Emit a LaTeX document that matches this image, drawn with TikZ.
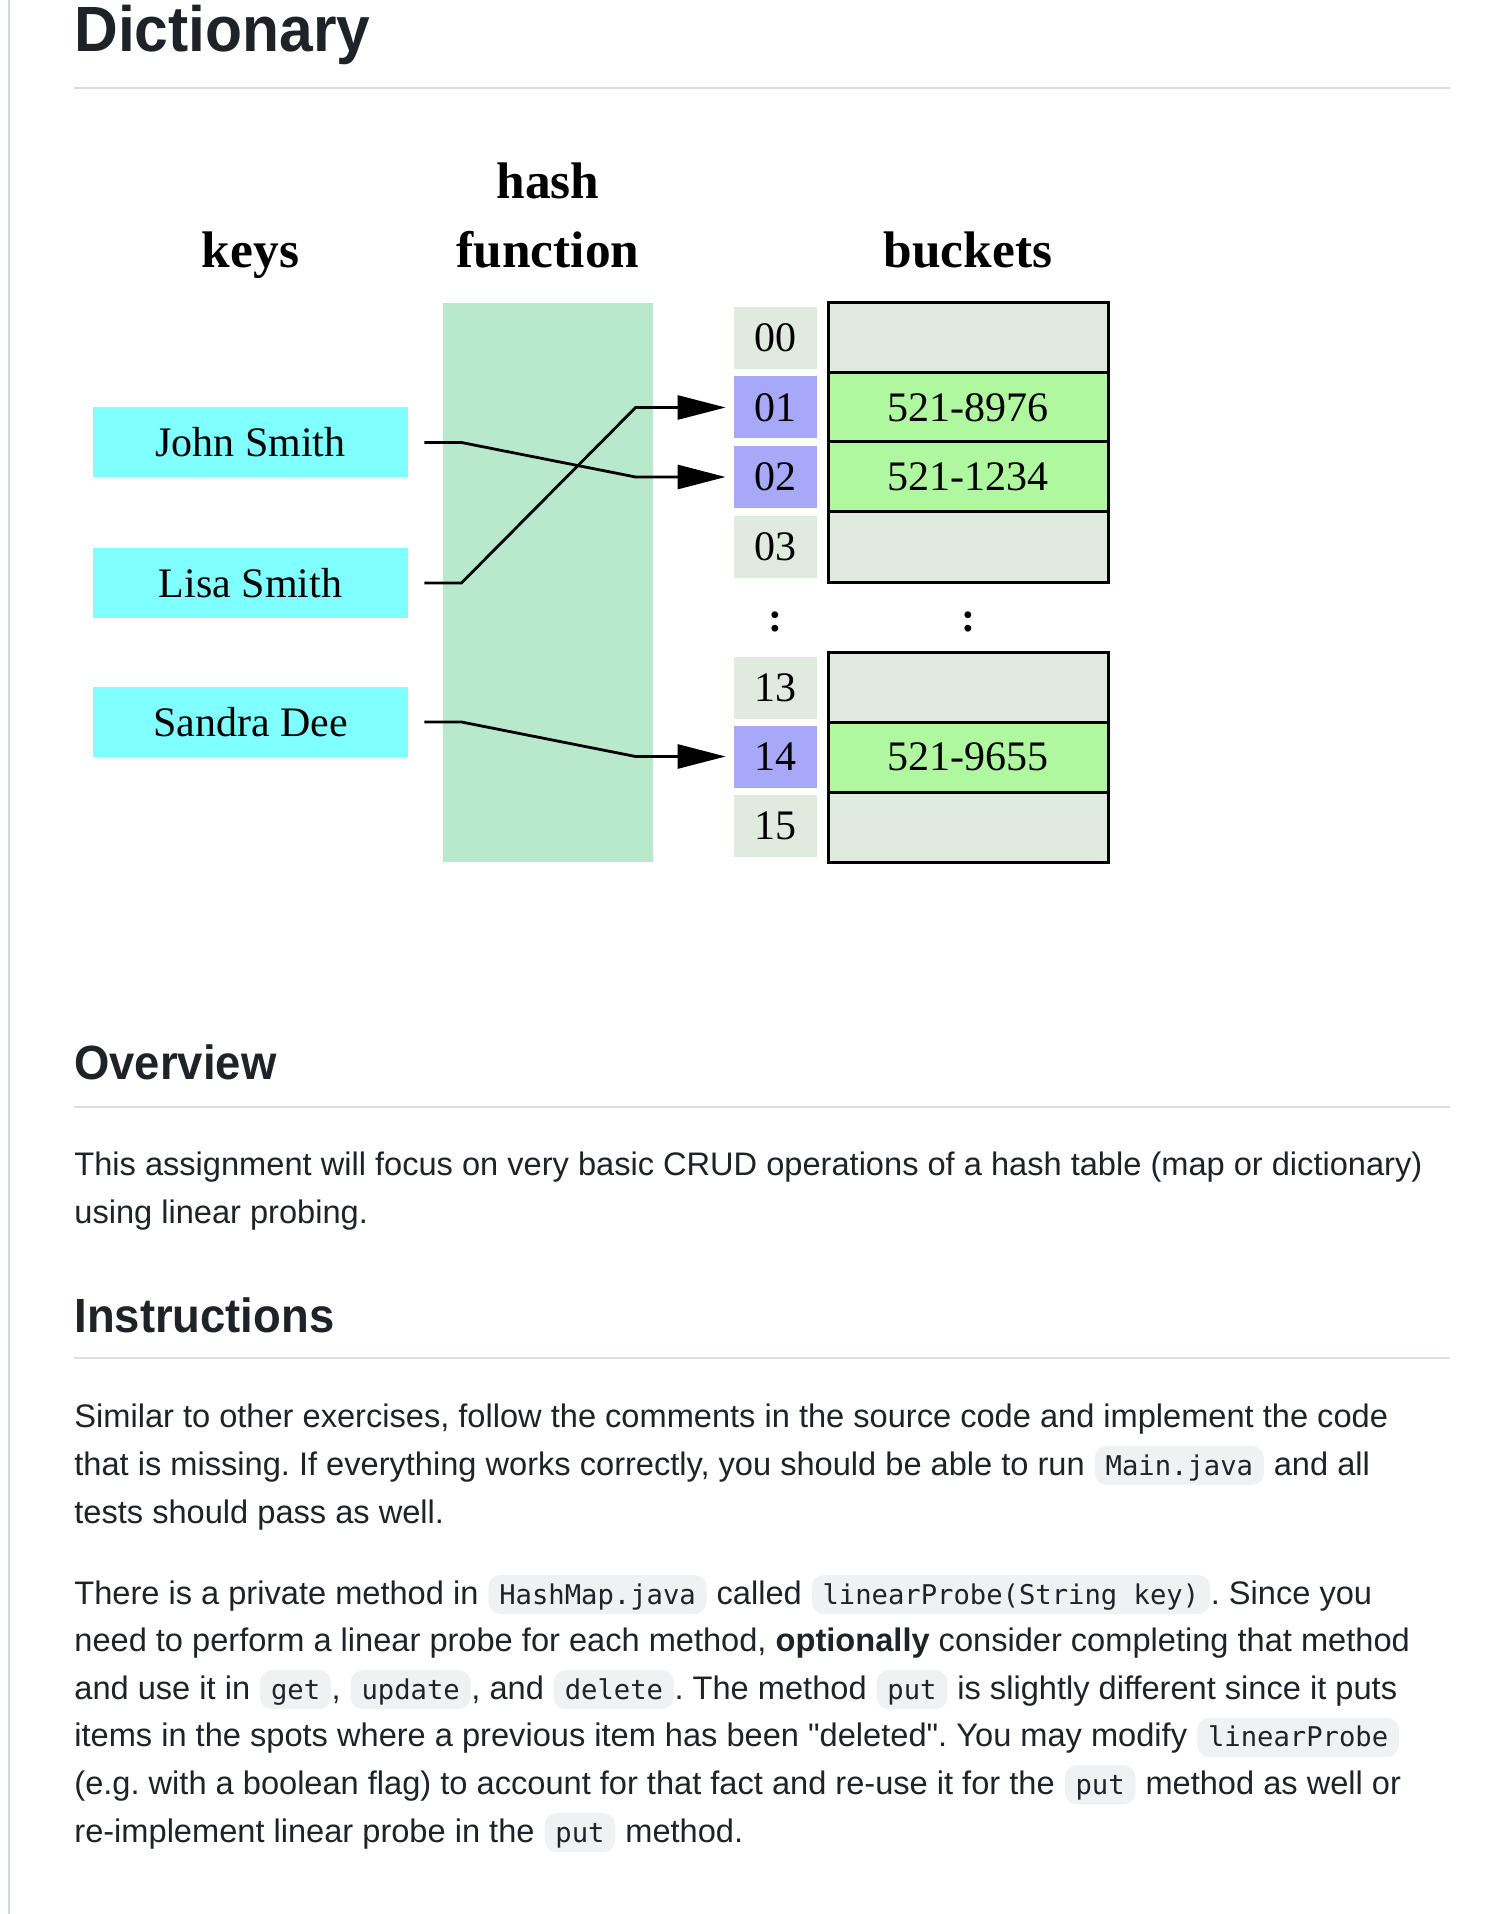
\documentclass[tikz,border=0pt]{standalone}
\usepackage{fontspec}
\setmainfont{Liberation Serif}
\newfontfamily\bodyfont{Liberation Sans}
\newfontfamily\headfont[FakeStretch=0.946]{Liberation Sans}
\newfontfamily\codefont{DejaVu Sans Mono}
\newfontfamily\diafont{Liberation Serif}
\usetikzlibrary{arrows.meta}
\frenchspacing
\definecolor{ink}{HTML}{1F2328}
\definecolor{rulegray}{HTML}{D8DEE4}
\definecolor{sidegray}{HTML}{D0D7DE}
\definecolor{codebg}{HTML}{EFF1F3}
\definecolor{keycyan}{HTML}{80FFFF}
\definecolor{hashgreen}{HTML}{B8E9CC}
\definecolor{emptycell}{HTML}{E0EADF}
\definecolor{hitblue}{HTML}{A8A8F8}
\definecolor{fullcell}{HTML}{B0F8A0}
\tikzset{
  h1/.style={font=\headfont\bfseries\fontsize{32}{38}\selectfont, text=ink, inner sep=0, anchor=base west},
  h2/.style={font=\headfont\bfseries\fontsize{24}{29}\selectfont, text=ink, inner sep=0, anchor=base west},
  txt/.style={font=\bodyfont\frenchspacing\fontsize{16.3}{20}\selectfont, text=ink, inner sep=0, anchor=base west},
  code/.style={font=\codefont\fontsize{13.6}{16}\selectfont, text=ink, fill=codebg, rounded corners=6pt,
    inner xsep=5.4pt, inner ysep=2pt, text height=12.5pt, text depth=3pt, anchor=base west},
  hrule/.style={draw=rulegray, line width=1pt},
  dhead/.style={font=\diafont\bfseries\fontsize{25.7}{30}\selectfont, inner sep=0, anchor=base},
  keybox/.style={fill=keycyan, minimum width=157.5pt, minimum height=35pt, inner sep=0,
    font=\diafont\fontsize{21}{25}\selectfont},
  idx/.style={minimum width=41.5pt, minimum height=31pt, inner sep=0, font=\diafont\fontsize{21}{25}\selectfont},
  idxe/.style={idx, fill=emptycell},
  idxh/.style={idx, fill=hitblue},
  cell/.style={draw=black, line width=1.5pt, minimum width=140pt, minimum height=35pt, inner sep=0,
    font=\diafont\fontsize{21}{25}\selectfont},
  celle/.style={cell, fill=emptycell},
  cellf/.style={cell, fill=fullcell},
  dots/.style={font=\diafont\bfseries\fontsize{21}{25}\selectfont, inner sep=0},
  conn/.style={draw=black, line width=1.4pt, -{Triangle[length=24pt,width=12pt]}},
}
\begin{document}
\begin{tikzpicture}[x=0.5pt,y=-0.5pt]
\path[use as bounding box, fill=white] (0,0) rectangle (1494,1914);
\draw[sidegray, line width=1.2pt] (9,0) -- (9,1914);

% Title
\node[h1] (title) at (74,52) {Dictionary};
\draw[hrule] (74,88) -- (1450,88);

% ---------- diagram ----------
\node[dhead] (hhash) at (548,199) {hash};
\node[dhead] (hfunc) at (548,268) {function};
\node[dhead] (hkeys) at (250.5,268) {keys};
\node[dhead] (hbuck) at (968,268) {buckets};

\node[fill=hashgreen, minimum width=105pt, minimum height=279.5pt, inner sep=0] (hashf) at (548,582.5) {};

\node[keybox] (john) at (250.5,442.5) {John Smith};
\node[keybox] (lisa) at (250.5,583) {Lisa Smith};
\node[keybox] (sandra) at (250.5,722) {Sandra Dee};

\node[idxe] (i00) at (775.5,338) {00};
\node[idxh] (i01) at (775.5,407.5) {01};
\node[idxh] (i02) at (775.5,477) {02};
\node[idxe] (i03) at (775.5,547) {03};
\node[dots] (idots) at (775.5,622) {:};
\node[idxe] (i13) at (775.5,687.5) {13};
\node[idxh] (i14) at (775.5,756.5) {14};
\node[idxe] (i15) at (775.5,826) {15};

\node[celle] (b00) at (968,338) {};
\node[cellf] (b01) at (968,407.5) {521-8976};
\node[cellf] (b02) at (968,477) {521-1234};
\node[celle] (b03) at (968,547) {};
\node[dots] (bdots) at (968,622) {:};
\node[celle] (b13) at (968,687.5) {};
\node[cellf] (b14) at (968,757) {521-9655};
\node[celle] (b15) at (968,827) {};

\draw[conn] ([xshift=8pt]john.east) -- ([xshift=26.5pt]john.east) -- ([xshift=-49pt]i02.west) -- ([xshift=-4pt]i02.west);
\draw[conn] ([xshift=8pt]lisa.east) -- ([xshift=26.5pt]lisa.east) -- ([xshift=-49pt]i01.west) -- ([xshift=-4pt]i01.west);
\draw[conn] ([xshift=8pt]sandra.east) -- ([xshift=26.5pt]sandra.east) -- ([xshift=-49pt]i14.west) -- ([xshift=-4pt]i14.west);

% ---------- Overview ----------
\node[h2] (overview) at (74,1079) {Overview};
\draw[hrule] (74,1107) -- (1450,1107);
\node[txt] (o1) at (74,1175) {This assignment will focus on very basic CRUD operations of a hash table (map or dictionary)};
\node[txt] (o2) at (74,1223) {using linear probing.};

% ---------- Instructions ----------
\node[h2] (instr) at (74,1332) {Instructions};
\draw[hrule] (74,1358) -- (1450,1358);
\node[txt] (a1) at (74,1427) {Similar to other exercises, follow the comments in the source code and implement the code};
\node[txt] (a2) at (74,1475) {that is missing. If everything works correctly, you should be able to run};
\node[code] (a2c) at ([xshift=4.6pt]a2.base east) {Main.java};
\node[txt] (a2d) at ([xshift=4.6pt]a2c.base east) {and all};
\node[txt] (a3) at (74,1523) {tests should pass as well.};

\node[txt] (p1) at (74,1604) {There is a private method in};
\node[code] (p1b) at ([xshift=4.6pt]p1.base east) {HashMap.java};
\node[txt] (p1c) at ([xshift=4.6pt]p1b.base east) {called};
\node[code] (p1d) at ([xshift=4.6pt]p1c.base east) {linearProbe(String key)};
\node[txt] (p1e) at (p1d.base east) {. Since you};

\node[txt] (p2) at (74,1651.6) {need to perform a linear probe for each method, \bfseries optionally\mdseries{} consider completing that method};

\node[txt] (p3) at (74,1699.2) {and use it in};
\node[code] (p3b) at ([xshift=4.6pt]p3.base east) {get};
\node[txt] (p3c) at (p3b.base east) {,};
\node[code] (p3d) at ([xshift=4.6pt]p3c.base east) {update};
\node[txt] (p3e) at (p3d.base east) {, and};
\node[code] (p3f) at ([xshift=4.6pt]p3e.base east) {delete};
\node[txt] (p3g) at (p3f.base east) {. The method};
\node[code] (p3h) at ([xshift=4.6pt]p3g.base east) {put};
\node[txt] (p3i) at ([xshift=4.6pt]p3h.base east) {is slightly different since it puts};

\node[txt] (p4) at (74,1746.8) {items in the spots where a previous item has been "deleted". You may modify};
\node[code] (p4b) at ([xshift=4.6pt]p4.base east) {linearProbe};

\node[txt] (p5) at (74,1794.4) {(e.g. with a boolean flag) to account for that fact and re-use it for the};
\node[code] (p5b) at ([xshift=4.6pt]p5.base east) {put};
\node[txt] (p5c) at ([xshift=4.6pt]p5b.base east) {method as well or};

\node[txt] (p6) at (74,1842) {re-implement linear probe in the};
\node[code] (p6b) at ([xshift=4.6pt]p6.base east) {put};
\node[txt] (p6c) at ([xshift=4.6pt]p6b.base east) {method.};
\end{tikzpicture}
\end{document}
